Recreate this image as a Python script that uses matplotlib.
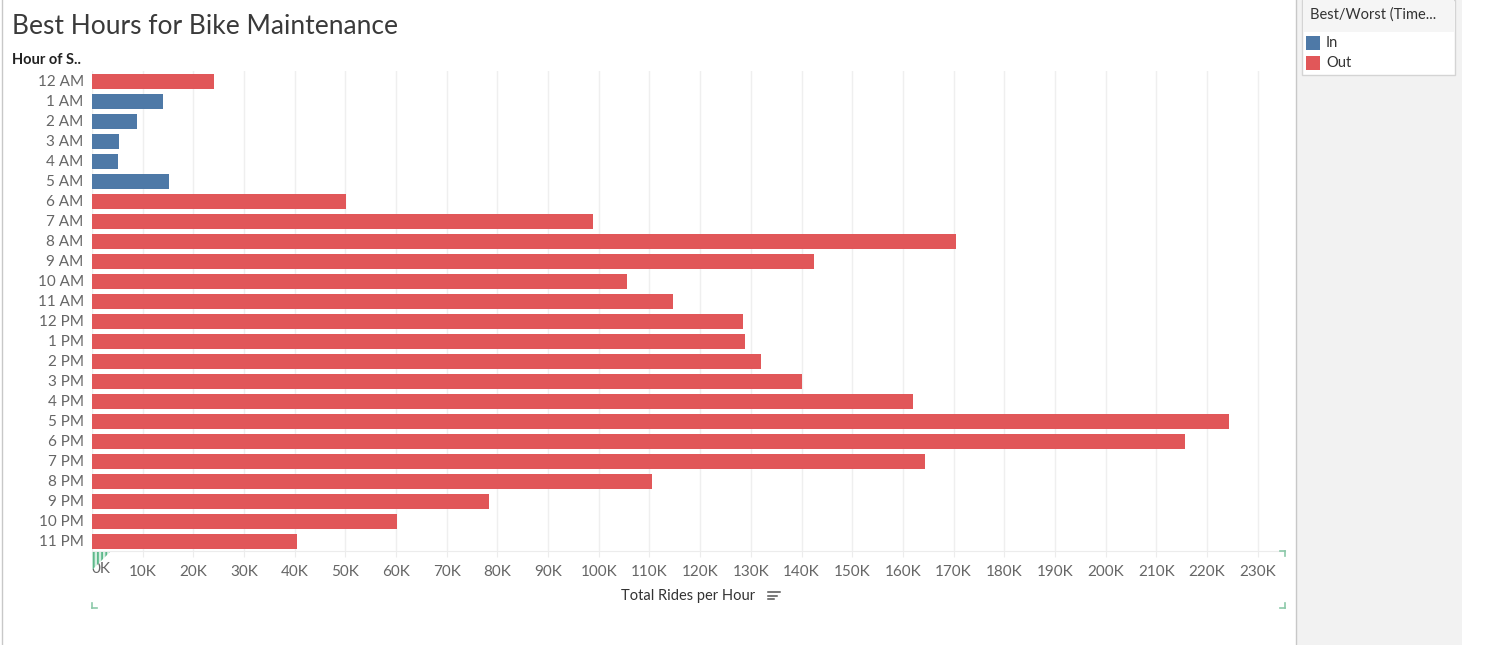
import numpy as np
import matplotlib
matplotlib.use("Agg")
import matplotlib.pyplot as plt
from matplotlib.patches import Rectangle, Polygon
from matplotlib.lines import Line2D
from matplotlib.ticker import FuncFormatter, MultipleLocator
from matplotlib.transforms import blended_transform_factory

# --------------------------------------------------
# Data
# --------------------------------------------------
hours = ["12 AM", "1 AM", "2 AM", "3 AM", "4 AM", "5 AM", "6 AM", "7 AM", "8 AM",
         "9 AM", "10 AM", "11 AM", "12 PM", "1 PM", "2 PM", "3 PM", "4 PM", "5 PM",
         "6 PM", "7 PM", "8 PM", "9 PM", "10 PM", "11 PM"]
rides = [24100, 14000, 8900, 5300, 5100, 15200, 50100, 98900, 170500,
         142500, 105600, 114700, 128500, 128900, 132000, 140100, 162000, 224400,
         215700, 164400, 110400, 78400, 60100, 40500]
group = ["Out", "In", "In", "In", "In", "In", "Out", "Out", "Out",
         "Out", "Out", "Out", "Out", "Out", "Out", "Out", "Out", "Out",
         "Out", "Out", "Out", "Out", "Out", "Out"]

colors = {"In": "#4e79a7", "Out": "#e15759"}
W, H = 1493, 645

plt.rcParams["font.family"] = ["Lato", "DejaVu Sans"]
plt.rcParams["hatch.linewidth"] = 1.3

fig = plt.figure(figsize=(W / 100, H / 100), dpi=100)
fig.patch.set_facecolor("white")

# right panel background + borders
fig.add_artist(Rectangle((1296 / W, 0), (1462 - 1296) / W, 1, transform=fig.transFigure,
                         facecolor="#f2f2f2", edgecolor="none", zorder=0))
fig.add_artist(Line2D([1295.5 / W] * 2, [0, 1], transform=fig.transFigure, color="#c8c8c8", lw=1))
fig.add_artist(Line2D([2 / W] * 2, [0, 1], transform=fig.transFigure, color="#c8c8c8", lw=1))

# --------------------------------------------------
# Bars
# --------------------------------------------------
ax = fig.add_axes([92 / W, 1 - 551 / H, (1285 - 92) / W, 480 / H])
y = np.arange(len(hours))
ax.barh(y, rides, height=0.75, color=[colors[g] for g in group], zorder=3)
ax.set_ylim(len(hours) - 0.5, -0.5)
ax.set_xlim(0, 235400)
ax.set_yticks(y)
ax.set_yticklabels(hours)
ax.xaxis.set_major_locator(MultipleLocator(10000))
# first label ("0K") is drawn left-aligned separately, like tableau does
ax.xaxis.set_major_formatter(FuncFormatter(lambda v, p: "" if v == 0 else f"{int(v / 1000)}K"))
ax.grid(axis="x", color="#efefef", lw=1, zorder=0)
for s in ["top", "right", "left"]:
    ax.spines[s].set_visible(False)
ax.spines["bottom"].set_color("#ececec")
ax.tick_params(axis="y", length=0, pad=6, labelsize=11, labelcolor="#666666")
ax.tick_params(axis="x", length=4, color="#ececec", pad=6, labelsize=11, labelcolor="#666666")
trans = blended_transform_factory(ax.transData, fig.transFigure)
ax.text(0, 1 - 569 / H, "0K", transform=trans, fontsize=11, color="#666666",
        ha="left", va="center", clip_on=False)

# titles / labels
fig.text(12 / W, 1 - 26 / H, "Best Hours for Bike Maintenance", fontsize=19,
         color="#3a3a3a", va="center", ha="left")
fig.text(12 / W, 1 - 60 / H, "Hour of S..", fontsize=10.5, color="#222222",
         va="center", ha="left", fontweight="bold")
fig.text(688 / W, 1 - 596 / H, "Total Rides per Hour", fontsize=10.5, color="#333333",
         va="center", ha="center")
# sort icon
for i, ln in enumerate([12, 9, 6]):
    yy = 1 - (592 + i * 3.5) / H
    fig.add_artist(Line2D([768 / W, (768 + ln) / W], [yy, yy], transform=fig.transFigure,
                          color="#555555", lw=1.1))

# tableau-style corner marks and hatched triangle
fig.add_artist(Polygon([(92 / W, 1 - 552 / H), (110 / W, 1 - 552 / H), (92 / W, 1 - 570 / H)],
                       closed=True, transform=fig.transFigure, facecolor="#d6eee1",
                       edgecolor="#5cb88a", hatch="||||", lw=0, zorder=5))
for (cx, cy, dx, dy) in [(92, 608, 1, -1), (1285, 608, -1, -1), (1285, 551, -1, 1)]:
    fig.add_artist(Line2D([cx / W, cx / W], [1 - cy / H, 1 - (cy - 5 * dy * -1) / H],
                          transform=fig.transFigure, color="#8cc9a9", lw=1.2))
    fig.add_artist(Line2D([cx / W, (cx + 5 * dx) / W], [1 - cy / H] * 2,
                          transform=fig.transFigure, color="#8cc9a9", lw=1.2))

# --------------------------------------------------
# Legend box
# --------------------------------------------------
fig.add_artist(Rectangle((1302 / W, 1 - 75 / H), (1455 - 1302) / W, 75 / H,
                         transform=fig.transFigure, facecolor="white",
                         edgecolor="#d4d4d4", lw=1, zorder=1))
fig.add_artist(Rectangle((1303 / W, 1 - 32 / H), (1454 - 1303) / W, 32 / H,
                         transform=fig.transFigure, facecolor="#f5f5f5",
                         edgecolor="none", zorder=2))
fig.text(1310 / W, 1 - 15 / H, "Best/Worst (Time...", fontsize=10.5, color="#333333",
         va="center", ha="left", zorder=3)
for i, lab in enumerate(["In", "Out"]):
    cy = 43 + i * 20
    fig.add_artist(Rectangle((1306 / W, 1 - (cy + 7) / H), 14 / W, 14 / H,
                             transform=fig.transFigure, facecolor=colors[lab],
                             edgecolor="none", zorder=3))
    fig.text(1326 / W, 1 - cy / H, lab, fontsize=10.5, color="#333333",
             va="center", ha="left", zorder=3)

fig.savefig("out.png", dpi=100)
